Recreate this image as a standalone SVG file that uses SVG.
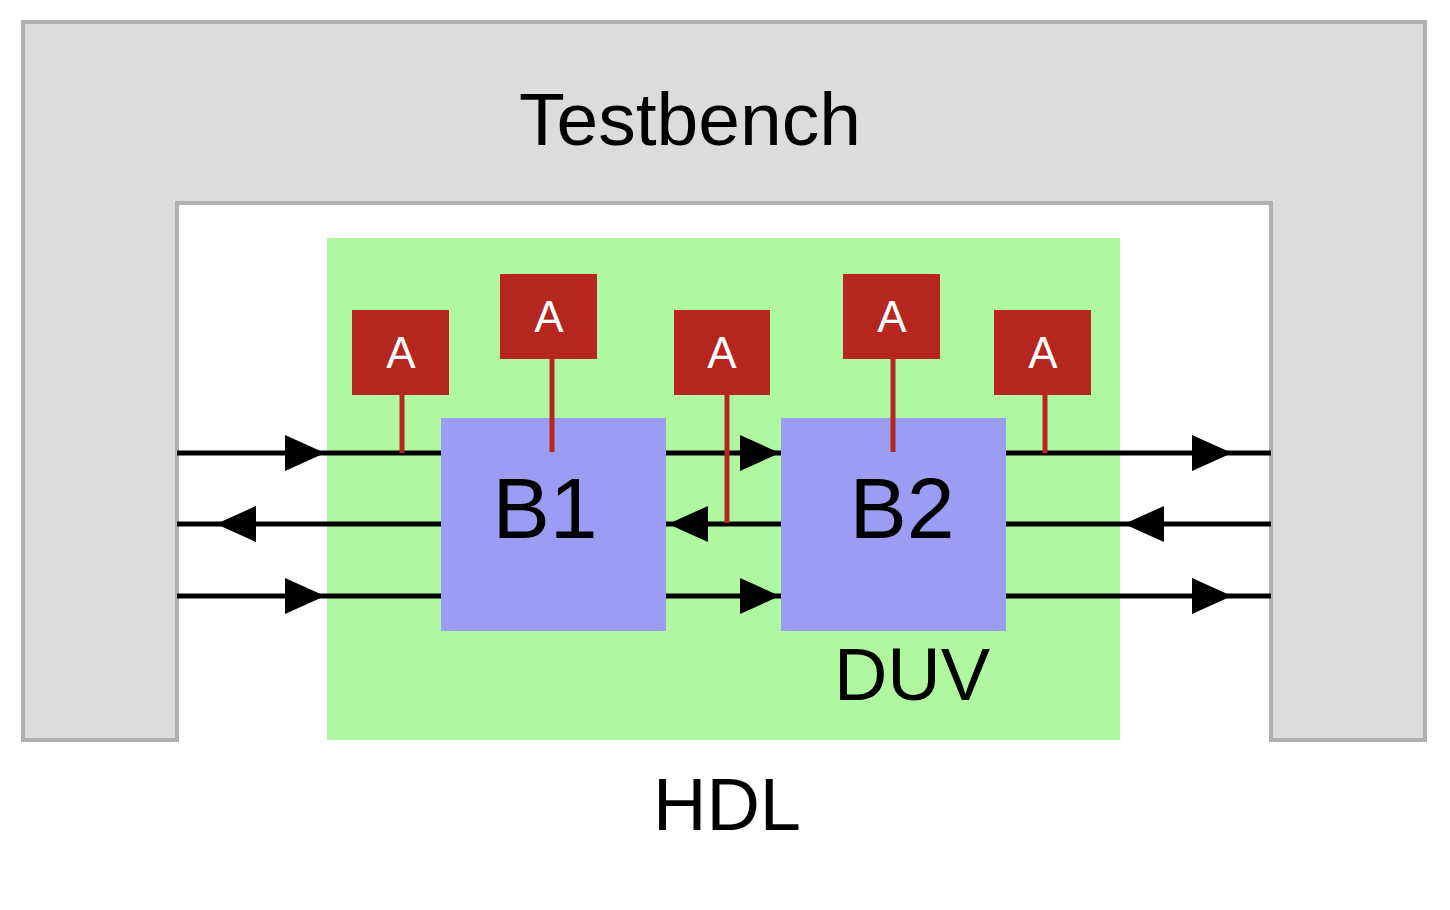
<svg xmlns="http://www.w3.org/2000/svg" width="1450" height="910" viewBox="0 0 1450 910">
<style>
text{font-family:"Liberation Sans",Arial,sans-serif;text-anchor:middle}
.w{stroke:#000;stroke-width:5;fill:none}
.ah{fill:#000}
.r{stroke:#b5261e;stroke-width:5}
.ab{fill:#b5261e}
.at{fill:#fff;font-size:44px}
.blk{fill:#9b9cf4}
</style>
<rect width="1450" height="910" fill="#fff"/>
<g id="testbench">
<path d="M23,22 H1425 V740 H1271 V203 H177 V740 H23 Z" fill="#dcdcdc" stroke="#b0b0b0" stroke-width="4"/>
<text x="690" y="145" font-size="75">Testbench</text>
</g>
<g id="duv">
<rect x="327" y="238" width="793" height="502" fill="#b0f8a0"/>
<text x="912" y="700" font-size="74">DUV</text>
</g>
<g id="b1"><rect class="blk" x="441" y="418" width="225" height="213"/><text x="545" y="538" font-size="86">B1</text></g>
<g id="b2"><rect class="blk" x="781" y="418" width="225" height="213"/><text x="902" y="538" font-size="86">B2</text></g>
<g id="connectors">
<path class="w" d="M177,453H441M666,453H781M1006,453H1271M177,524H441M666,524H781M1006,524H1271M177,596H441M666,596H781M1006,596H1271"/>
<polygon class="ah" points="285,435 325,453 285,471"/>
<polygon class="ah" points="740,435 780,453 740,471"/>
<polygon class="ah" points="1192,435 1232,453 1192,471"/>
<polygon class="ah" points="256,506 216,524 256,542"/>
<polygon class="ah" points="708,506 668,524 708,542"/>
<polygon class="ah" points="1164,506 1124,524 1164,542"/>
<polygon class="ah" points="285,578 325,596 285,614"/>
<polygon class="ah" points="740,578 780,596 740,614"/>
<polygon class="ah" points="1192,578 1232,596 1192,614"/>
<path class="r" d="M402,395V453M552,359V452M727,395V523M893,359V452M1045,395V453"/>
</g>
<g id="a1"><rect class="ab" x="352" y="310" width="97" height="85"/><text class="at" x="401" y="368">A</text></g>
<g id="a2"><rect class="ab" x="500" y="274" width="97" height="85"/><text class="at" x="549" y="332">A</text></g>
<g id="a3"><rect class="ab" x="674" y="310" width="96" height="85"/><text class="at" x="722" y="368">A</text></g>
<g id="a4"><rect class="ab" x="843" y="274" width="97" height="85"/><text class="at" x="892" y="332">A</text></g>
<g id="a5"><rect class="ab" x="994" y="310" width="97" height="85"/><text class="at" x="1043" y="368">A</text></g>
<g id="hdl"><text x="727" y="830" font-size="74">HDL</text></g>
</svg>
